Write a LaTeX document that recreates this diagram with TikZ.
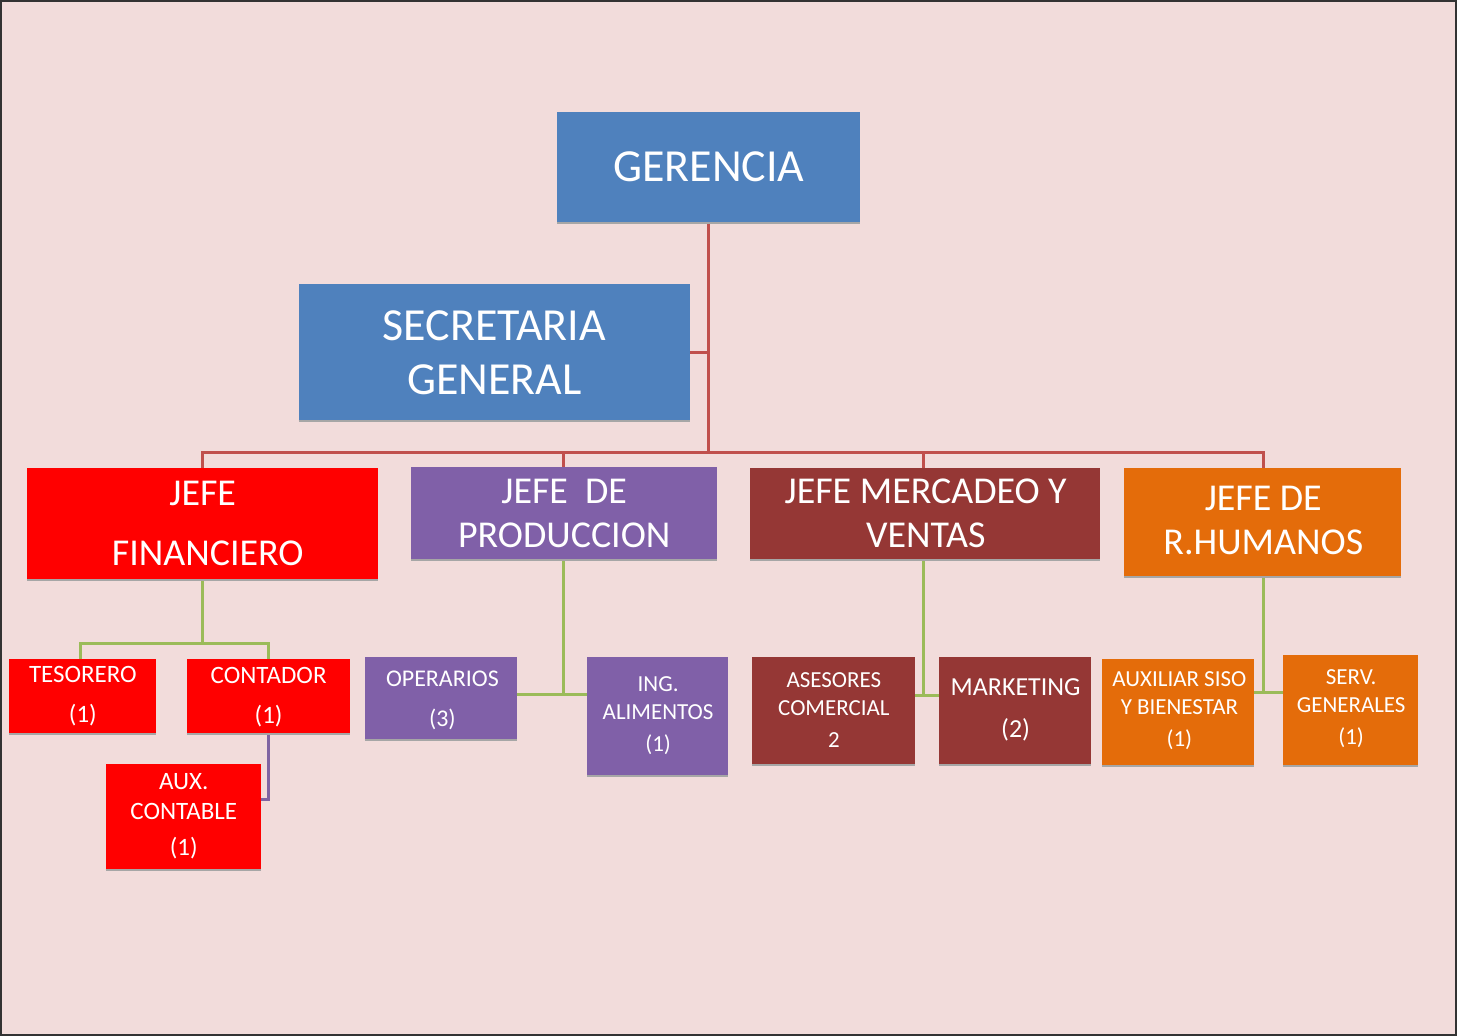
\documentclass[tikz,border=0pt]{standalone}
\usepackage{fontspec}
\setmainfont{Carlito}
\definecolor{bg}{RGB}{242,220,219}
\definecolor{cblue}{RGB}{79,129,189}
\definecolor{cred}{RGB}{255,0,0}
\definecolor{cpur}{RGB}{128,96,168}
\definecolor{cdred}{RGB}{149,55,53}
\definecolor{corg}{RGB}{228,108,10}
\definecolor{lred}{RGB}{192,80,77}
\definecolor{lgreen}{RGB}{155,187,89}
\definecolor{lpur}{RGB}{128,100,162}
\begin{document}
\begin{tikzpicture}[x=0.5pt,y=-0.5pt,
 bx/.style={text=white,align=center,inner sep=0pt,anchor=north west,font=\fontsize{12}{14}\selectfont},
 rl/.style={lred,line width=1.5pt},
 gl/.style={lgreen,line width=1.5pt}]
\fill[bg,draw=black!80,line width=1pt] (0,0) rectangle (1457,1035);
\newcommand\bxx[6]{\fill[#2,drop shadow/.style={}] (#3,#4) rectangle (#5,#6);
 \draw[black!35,line width=1pt] (#3,#6) -- (#5,#6);
 \node[text=white,align=center] (#1) at ({(#3+#5)/2},{(#4+#6)/2}) {};}
% connectors
\coordinate (g1) at (708,222); \coordinate (g2) at (708,452);
\coordinate (s1) at (690,352); \coordinate (s2) at (708,352);
\draw[rl] (g1) -- (g2); \draw[rl] (s1) -- (s2);
\coordinate (h1) at (202,468); \coordinate (h2) at (563,467); \coordinate (h3) at (924,468); \coordinate (h4) at (1264,468);
\draw[rl] (h1) -- (202,452) -- (1264,452) -- (h4);
\draw[rl] (h2) -- (563,452); \draw[rl] (h3) -- (924,452);
\draw[gl] (202,580) -- (202,643); \draw[gl] (80,659) -- (80,643) -- (268,643) -- (268,659);
\draw[gl] (563,560) -- (563,694); \draw[gl] (517,694) -- (587,694);
\draw[gl] (924,560) -- (924,695); \draw[gl] (915,695) -- (939,695);
\draw[gl] (1264,577) -- (1264,692); \draw[gl] (1255,692) -- (1284,692);
\draw[lpur,line width=1.5pt] (268,734) -- (268,800) -- (260,800);
% boxes
\bxx{ger}{cblue}{557}{111}{860}{222}
\node[text=white,font=\fontsize{23}{26}\selectfont] at (709,166) {GERENCIA};
\bxx{sec}{cblue}{298}{283}{690}{421}
\node[text=white,align=center,font=\fontsize{23}{27}\selectfont] at (494,352) {SECRETARIA\\GENERAL};
\bxx{jf}{cred}{26}{468}{378}{580}
\node[text=white,font=\fontsize{19}{22}\selectfont] at (202,493) {JEFE};
\node[text=white,font=\fontsize{19}{22}\selectfont] at (207,553) {FINANCIERO};
\bxx{jp}{cpur}{411}{467}{717}{560}
\node[text=white,align=center,font=\fontsize{19}{22}\selectfont] at (564,513) {JEFE\ \ DE\\PRODUCCION};
\bxx{jm}{cdred}{750}{468}{1100}{560}
\node[text=white,align=center,font=\fontsize{19}{22}\selectfont] at (926,513) {JEFE MERCADEO Y\\VENTAS};
\bxx{jr}{corg}{1125}{468}{1402}{577}
\node[text=white,align=center,font=\fontsize{19}{22}\selectfont] at (1264,520) {JEFE DE\\R.HUMANOS};
\bxx{tes}{cred}{8}{659}{155}{734}
\node[text=white,align=center,font=\fontsize{12.5}{20}\selectfont] at (82,696) {TESORERO\\(1)};
\bxx{con}{cred}{186}{659}{349}{734}
\node[text=white,align=center,font=\fontsize{12.5}{20}\selectfont] at (268,697) {CONTADOR\\(1)};
\bxx{aux}{cred}{105}{764}{260}{870}
\node[text=white,align=center,font=\fontsize{12.5}{15}\selectfont] at (183,816) {AUX.\\CONTABLE\\[3pt](1)};
\bxx{ope}{cpur}{364}{657}{517}{740}
\node[text=white,align=center,font=\fontsize{12}{20}\selectfont] at (442,700) {OPERARIOS\\(3)};
\bxx{ing}{cpur}{587}{657}{728}{776}
\node[text=white,align=center,font=\fontsize{11.5}{14}\selectfont] at (658,716) {ING.\\ALIMENTOS\\[2pt](1)};
\bxx{ase}{cdred}{752}{657}{915}{765}
\node[text=white,align=center,font=\fontsize{11.5}{14}\selectfont] at (834,710) {ASESORES\\COMERCIAL\\[2pt]2};
\bxx{mar}{cdred}{939}{657}{1091}{765}
\node[text=white,align=center,font=\fontsize{13}{21}\selectfont] at (1016,710) {MARKETING\\(2)};
\bxx{sis}{corg}{1102}{659}{1255}{766}
\node[text=white,align=center,font=\fontsize{11.5}{14}\selectfont] at (1180,711) {AUXILIAR SISO\\Y BIENESTAR\\[2pt](1)};
\bxx{srv}{corg}{1284}{655}{1419}{766}
\node[text=white,align=center,font=\fontsize{11.5}{14}\selectfont] at (1352,709) {SERV.\\GENERALES\\[2pt](1)};
\end{tikzpicture}
\end{document}
